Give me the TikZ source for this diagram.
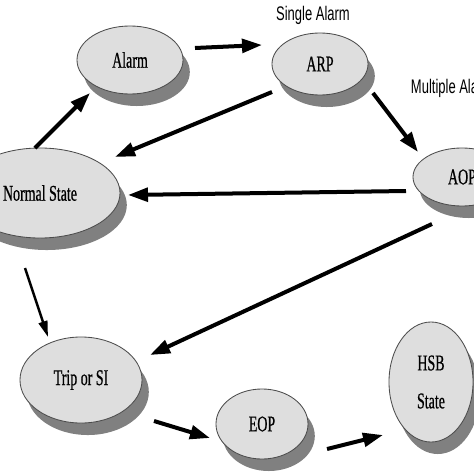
\documentclass[tikz,border=0pt]{standalone}
\usepackage{fontspec}
\setmainfont[FakeStretch=0.62, FakeBold=0.6]{Liberation Serif}
\newfontfamily\notefont[FakeStretch=0.66]{Liberation Sans}
\usepackage{tikz}
\usetikzlibrary{shapes.geometric, shadows, arrows.meta}

\tikzset{
    state/.style={ellipse, draw=black!70, line width=0.6pt, fill=black!13, inner sep=0pt,
        drop shadow={shadow xshift=0.17cm, shadow yshift=-0.3cm, fill=black!50, opacity=1},
        font=\fontsize{16}{18}\selectfont},
    arr/.style={line width=1mm, -{Triangle[length=5mm, width=3.4mm]}},
    note/.style={font=\notefont\fontsize{14}{16}\selectfont}
}

\begin{document}
\begin{tikzpicture}[x=0.025cm, y=-0.025cm]
    \useasboundingbox (0, 0) rectangle (474, 474);
    \clip (0, 0) rectangle (474, 474);
    \node[state, minimum width=2.65cm, minimum height=1.7cm] (alarm) at (130, 60) {Alarm};
    \node[state, minimum width=2.4cm, minimum height=1.55cm] (arp) at (320, 64) {ARP};
    \node[state, minimum width=4cm, minimum height=2.25cm] (normal) at (40, 193) {Normal State};
    \node[state, minimum width=2.45cm, minimum height=1.45cm] (aop) at (462, 177) {AOP};
    \node[state, minimum width=3.05cm, minimum height=2.15cm] (trip) at (81, 380) {Trip or SI};
    \node[state, minimum width=2.3cm, minimum height=1.75cm] (eop) at (262, 424) {EOP};
    \node[state, minimum width=2.1cm, minimum height=3cm, align=center] (hsb) at (431, 382) {HSB\\[9pt]State};
    \node[note] (single) at (313, 15) {Single Alarm};
    \node[note, anchor=west] (multiple) at (406, 88) {Multiple Alarm};
    \draw[arr] ([shift={(65, -12)}]alarm.center) -- ([shift={(-58, -19)}]arp.center);
    \draw[arr] ([shift={(-48, 28)}]arp.center) -- ([shift={(75, -36)}]normal.center);
    \draw[arr] ([shift={(53, 29)}]arp.center) -- ([shift={(-44, -25)}]aop.center);
    \draw[arr] ([shift={(-5, -45)}]normal.center) -- ([shift={(-40, 33)}]alarm.center);
    \draw[arr] ([shift={(-56, 14)}]aop.center) -- ([shift={(88, 2)}]normal.center);
    \draw[arr] ([shift={(-30, 47)}]aop.center) -- ([shift={(69, -25)}]trip.center);
    \draw[line width=0.6mm, -{Triangle[length=4mm, width=2.2mm]}] ([shift={(-15, 75)}]normal.center) -- ([shift={(-33, -43)}]trip.center);
    \draw[arr] ([shift={(73, 41)}]trip.center) -- ([shift={(-52, 14)}]eop.center);
    \draw[arr] ([shift={(65, 25)}]eop.center) -- ([shift={(-48, 53)}]hsb.center);
\end{tikzpicture}
\end{document}
